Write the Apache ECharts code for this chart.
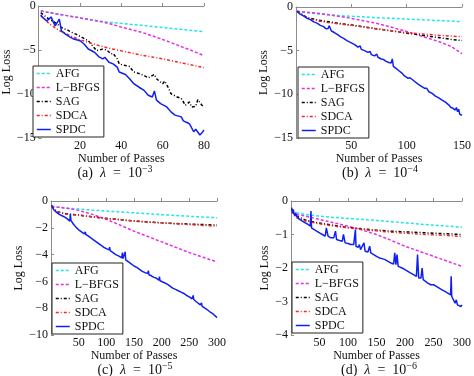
<!DOCTYPE html>
<html>
<head>
<meta charset="utf-8">
<script src="https://cdn.jsdelivr.net/npm/echarts@6/dist/echarts.min.js"></script>
<style>
  html, body { margin: 0; padding: 0; background: #fff; }
  #chart { width: 474px; height: 376px; }
</style>
</head>
<body>
<div id="chart"></div>
<script>
// ---- panel (a) lambda = 1e-3 ----
const passesA = [1, 5, 10, 15, 20, 25, 30, 35, 40, 45, 50, 55, 60, 65, 70, 75, 80];
const afgA = [-0.55, -0.75, -0.95, -1.15, -1.35, -1.55, -1.75, -1.87, -1.98, -2.1, -2.2, -2.32, -2.44, -2.56, -2.68, -2.8, -2.92];
const lbfgsA = [-0.55, -0.75, -0.95, -1.15, -1.35, -1.55, -1.77, -2.05, -2.4, -2.7, -3.0, -3.4, -3.8, -4.25, -4.7, -5.15, -5.65];
const sdcaA = [-1.1, -2.0, -2.8, -3.35, -3.85, -4.2, -4.55, -4.85, -5.1, -5.35, -5.6, -5.8, -6.0, -6.25, -6.5, -6.75, -7.0];
const sagPassesA = [1, 5, 8, 11, 14, 16, 18, 21, 24, 26, 28, 31, 33, 35, 36, 38, 39, 42, 44, 46, 49, 51, 53, 56, 57, 60, 61, 63, 64, 67, 69, 71, 73, 74, 76, 77, 79, 80];
const sagA = [-0.75, -1.5, -1.88, -2.44, -2.74, -3.0, -3.2, -3.57, -3.95, -4.5, -5.07, -4.9, -5.0, -5.45, -5.38, -6.0, -6.58, -6.77, -6.88, -7.5, -7.7, -7.9, -8.16, -7.78, -8.27, -8.83, -8.53, -9.4, -9.96, -10.34, -10.5, -11.28, -10.9, -11.47, -11.4, -10.64, -11.28, -11.47];
const spdcPassesA = [1, 2, 4, 6, 7, 8, 10, 11, 13, 15, 17, 20, 22, 24, 27, 29, 31, 32, 34, 36, 38, 39, 42, 44, 46, 49, 51, 53, 55, 56, 57, 59, 62, 64, 66, 69, 70, 72, 73, 75, 76, 78, 79, 80];
const spdcA = [-1.0, -1.32, -1.7, -1.24, -1.77, -2.26, -1.5, -2.82, -3.2, -3.5, -3.76, -3.95, -4.32, -4.89, -5.26, -5.75, -6.0, -5.83, -6.4, -6.58, -6.95, -7.5, -7.78, -8.27, -8.83, -9.29, -9.59, -10.15, -10.34, -9.66, -10.7, -11.1, -11.47, -12.03, -12.4, -12.6, -13.05, -13.27, -13.4, -14.29, -14.0, -14.66, -14.4, -14.1];

// ---- panel (b) lambda = 1e-4 ----
const passesB = [1, 10, 20, 30, 40, 50, 60, 70, 80, 90, 100, 110, 120, 130, 140, 150];
const afgB = [-0.5, -0.65, -0.8, -0.9, -1.0, -1.07, -1.13, -1.2, -1.26, -1.32, -1.38, -1.44, -1.5, -1.56, -1.62, -1.68];
const lbfgsB = [-0.5, -0.6, -0.72, -0.9, -1.1, -1.3, -1.55, -1.8, -2.1, -2.45, -2.8, -3.2, -3.6, -4.0, -4.5, -5.35];
const sagB = [-0.5, -1.2, -1.5, -1.7, -1.9, -2.06, -2.25, -2.45, -2.62, -2.8, -3.0, -3.15, -3.35, -3.52, -3.7, -3.85];
const sdcaB = [-0.5, -1.3, -1.6, -1.8, -1.95, -2.1, -2.28, -2.45, -2.62, -2.78, -2.93, -3.05, -3.15, -3.25, -3.33, -3.4];
const spdcPassesB = [1, 3, 5, 8, 10, 13, 16, 19, 22, 25, 27, 29, 30, 32, 35, 38, 40, 43, 46, 50, 53, 56, 58, 59, 60, 62, 65, 67, 68, 71, 73, 74, 77, 79, 81, 84, 86, 87, 88, 90, 93, 96, 98, 99, 101, 103, 104, 107, 110, 113, 116, 118, 120, 123, 126, 129, 132, 135, 138, 140, 142, 144, 145, 146, 147, 148, 150];
const spdcB = [-0.45, -0.75, -0.9, -1.1, -1.3, -1.45, -1.7, -1.85, -2.1, -2.25, -2.5, -2.45, -2.15, -2.75, -2.95, -3.2, -3.4, -3.6, -3.85, -4.1, -4.3, -4.6, -4.45, -4.85, -4.75, -5.0, -5.2, -5.1, -5.45, -5.6, -5.4, -5.75, -5.95, -6.0, -6.2, -6.35, -6.4, -5.95, -6.8, -7.0, -7.3, -7.6, -7.9, -7.7, -8.15, -8.1, -8.3, -8.5, -8.8, -9.05, -9.3, -9.3, -9.7, -9.9, -10.2, -10.4, -10.65, -10.9, -11.2, -11.5, -11.6, -11.8, -11.5, -12.0, -11.7, -12.3, -12.4];

// ---- panel (c) lambda = 1e-5 ----
const passesC = [1, 10, 25, 50, 75, 100, 125, 150, 175, 200, 225, 250, 275, 300];
const afgC = [-0.4, -0.45, -0.52, -0.6, -0.68, -0.75, -0.82, -0.88, -0.95, -1.02, -1.08, -1.14, -1.2, -1.25];
const lbfgsC = [-0.4, -0.45, -0.52, -0.7, -1.0, -1.37, -1.8, -2.25, -2.65, -3.05, -3.45, -3.85, -4.2, -4.55];
const sagC = [-0.4, -0.8, -0.95, -1.05, -1.18, -1.3, -1.4, -1.5, -1.57, -1.63, -1.68, -1.72, -1.76, -1.8];
const sdcaC = [-0.4, -0.75, -0.97, -1.07, -1.19, -1.3, -1.4, -1.48, -1.56, -1.63, -1.7, -1.76, -1.82, -1.88];
const spdcPassesC = [1, 5, 10, 15, 20, 25, 30, 33, 34, 35, 36, 40, 45, 50, 55, 60, 62, 63, 67, 70, 75, 80, 85, 90, 95, 100, 105, 106, 107, 112, 117, 122, 125, 128, 129, 130, 133, 134, 135, 140, 145, 150, 155, 160, 163, 165, 170, 175, 176, 177, 182, 186, 190, 195, 196, 197, 200, 205, 210, 215, 220, 225, 230, 235, 240, 245, 250, 255, 257, 258, 262, 265, 270, 272, 273, 278, 282, 285, 288, 290, 292, 295, 300];
const spdcC = [-0.3, -0.65, -0.85, -1.0, -1.1, -1.2, -1.35, -1.45, -1.5, -0.95, -1.45, -1.7, -1.95, -2.15, -2.3, -2.45, -2.3, -2.5, -2.6, -2.7, -2.85, -3.0, -3.15, -3.3, -3.45, -3.55, -3.65, -3.45, -3.7, -3.85, -4.0, -4.1, -4.2, -4.25, -3.85, -4.3, -4.35, -3.8, -4.4, -4.55, -4.7, -4.85, -4.95, -5.1, -5.0, -5.25, -5.35, -5.4, -5.2, -5.5, -5.6, -5.7, -5.75, -5.9, -5.65, -5.95, -6.0, -6.1, -6.2, -6.35, -6.5, -6.6, -6.7, -6.8, -6.9, -7.05, -7.15, -7.3, -7.05, -7.35, -7.5, -7.6, -7.75, -7.6, -7.85, -8.0, -8.1, -8.2, -8.3, -8.25, -8.4, -8.5, -8.7];

// ---- panel (d) lambda = 1e-6 ----
const passesD = [1, 10, 25, 50, 75, 100, 125, 150, 175, 200, 225, 250, 275, 300];
const afgD = [-0.3, -0.35, -0.4, -0.45, -0.49, -0.52, -0.55, -0.58, -0.62, -0.65, -0.69, -0.72, -0.75, -0.78];
const lbfgsD = [-0.35, -0.4, -0.45, -0.55, -0.65, -0.75, -0.87, -1.0, -1.17, -1.35, -1.5, -1.65, -1.8, -1.95];
const sagD = [-0.25, -0.45, -0.57, -0.66, -0.73, -0.79, -0.83, -0.87, -0.9, -0.92, -0.94, -0.96, -0.98, -1.0];
const sdcaD = [-0.3, -0.5, -0.6, -0.68, -0.75, -0.8, -0.85, -0.89, -0.93, -0.96, -0.99, -1.01, -1.03, -1.06];
const spdcPassesD = [1, 3, 4, 5, 7, 8, 10, 12, 15, 17, 20, 25, 30, 34, 35, 36, 40, 45, 50, 55, 60, 62, 65, 70, 75, 78, 80, 85, 90, 92, 95, 100, 105, 110, 112, 113, 114, 118, 120, 122, 125, 128, 130, 135, 138, 140, 145, 148, 150, 155, 160, 165, 170, 175, 180, 182, 184, 186, 188, 190, 195, 200, 205, 210, 215, 220, 222, 224, 228, 230, 232, 236, 240, 245, 250, 255, 260, 265, 270, 275, 280, 281, 282, 285, 288, 290, 292, 295, 298, 300];
const spdcD = [-0.2, -0.35, -0.25, -0.38, -0.45, -0.35, -0.45, -0.5, -0.55, -0.5, -0.6, -0.65, -0.7, -0.75, -0.3, -0.8, -0.85, -0.9, -0.95, -1.0, -1.05, -0.8, -1.05, -1.1, -1.1, -0.9, -1.15, -1.18, -1.2, -1.0, -1.25, -1.27, -1.3, -1.3, -1.32, -0.85, -1.35, -1.38, -1.3, -1.45, -1.45, -1.25, -1.5, -1.52, -1.35, -1.55, -1.6, -1.62, -1.65, -1.7, -1.72, -1.75, -1.8, -1.85, -1.88, -1.55, -1.9, -1.6, -1.95, -1.95, -2.0, -2.05, -2.1, -2.15, -2.2, -2.25, -1.6, -2.3, -2.3, -2.0, -2.35, -2.4, -2.45, -2.5, -2.5, -2.55, -2.6, -2.65, -2.7, -2.75, -2.8, -2.25, -2.85, -2.9, -3.05, -2.95, -3.1, -3.05, -3.15, -3.1];

const methodNames = ["AFG", "L\u2212BFGS", "SAG", "SDCA", "SPDC"];
const captions = ["(a)", "(b)", "(c)", "(d)"];
const exponents = ["\u22123", "\u22124", "\u22125", "\u22126"];

const FONT = "'Liberation Serif', 'DejaVu Serif', serif";
const STYLES = {
  AFG: { color: "#22e6e6", type: [3, 2] },
  "L\u2212BFGS": { color: "#e62ee6", type: [3, 2] },
  SAG: { color: "#000000", type: [3, 2, 1, 2] },
  SDCA: { color: "#f02828", type: [3, 2, 1, 2] },
  SPDC: { color: "#1020f0", type: "solid" },
};

function pairs(xs, ys) {
  return xs.map(function (x, i) { return [x, ys[i]]; });
}

const panels = [
  {
    grid: { left: 32, top: 5, width: 172, height: 133 },
    x: { max: 80, interval: 20 }, y: { min: -15, interval: 5 }, nameGap: 18,
    legend: { left: 33, top: 66 }, caption: [115, 173],
    data: [pairs(passesA, afgA), pairs(passesA, lbfgsA), pairs(sagPassesA, sagA), pairs(passesA, sdcaA), pairs(spdcPassesA, spdcA)],
  },
  {
    grid: { left: 296, top: 7, width: 168, height: 131 },
    x: { max: 150, interval: 50 }, y: { min: -15, interval: 5 }, nameGap: 20,
    legend: { left: 298, top: 67 }, caption: [380, 173],
    data: [pairs(passesB, afgB), pairs(passesB, lbfgsB), pairs(passesB, sagB), pairs(passesB, sdcaB), pairs(spdcPassesB, spdcB)],
  },
  {
    grid: { left: 51, top: 201, width: 166, height: 134 },
    x: { max: 300, interval: 50 }, y: { min: -10, interval: 2 }, nameGap: 23,
    legend: { left: 52, top: 263 }, caption: [135, 370],
    data: [pairs(passesC, afgC), pairs(passesC, lbfgsC), pairs(passesC, sagC), pairs(passesC, sdcaC), pairs(spdcPassesC, spdcC)],
  },
  {
    grid: { left: 291, top: 201, width: 173, height: 134 },
    x: { max: 300, interval: 50 }, y: { min: -4, interval: 1 }, nameGap: 14,
    legend: { left: 292, top: 262 }, caption: [379, 370],
    data: [pairs(passesD, afgD), pairs(passesD, lbfgsD), pairs(passesD, sagD), pairs(passesD, sdcaD), pairs(spdcPassesD, spdcD)],
  },
];

const minus = function (v) { return String(v).replace("-", "\u2212"); };
const axisLine = { lineStyle: { color: "#8c8c8c", width: 1 } };
const axisTick = { inside: true, length: 3, lineStyle: { color: "#8c8c8c" } };
const labelStyle = { color: "#111", fontFamily: FONT, fontSize: 12 };

const option = {
  backgroundColor: "#fff",
  animation: false,
  grid: panels.map(function (p) { return p.grid; }),
  xAxis: panels.map(function (p, i) {
    return {
      type: "value", gridIndex: i, min: 0, max: p.x.max, interval: p.x.interval,
      name: "Number of Passes", nameLocation: "middle", nameGap: 9,
      nameTextStyle: { color: "#111", fontFamily: FONT, fontSize: 12 },
      axisLine: axisLine, axisTick: axisTick, splitLine: { show: false },
      axisLabel: Object.assign({ margin: 2, showMinLabel: false, formatter: minus }, labelStyle),
    };
  }),
  yAxis: panels.map(function (p, i) {
    return {
      type: "value", gridIndex: i, min: p.y.min, max: 0, interval: p.y.interval,
      name: "Log Loss", nameLocation: "middle", nameGap: p.nameGap, nameRotate: 90,
      nameTextStyle: { color: "#111", fontFamily: FONT, fontSize: 12 },
      axisLine: axisLine, axisTick: axisTick, splitLine: { show: false },
      axisLabel: Object.assign({ margin: 3, formatter: minus }, labelStyle),
    };
  }),
  legend: panels.map(function (p) {
    return {
      data: methodNames, orient: "vertical", left: p.legend.left, top: p.legend.top,
      backgroundColor: "#fff", borderColor: "#222", borderWidth: 1,
      padding: [1, 4, 1, 3], itemGap: 1, itemWidth: 14, itemHeight: 8,
      itemStyle: { opacity: 0 },
      lineStyle: { width: 1.5 },
      textStyle: { color: "#111", fontFamily: FONT, fontSize: 12, lineHeight: 13 },
      selectedMode: false,
    };
  }),
  series: [],
  graphic: panels.map(function (p, i) {
    return {
      type: "text", x: p.caption[0], y: p.caption[1],
      style: {
        text: "{n|" + captions[i] + "  }{i|\u03bb}{n|  =  10}{s|" + exponents[i] + "}",
        align: "center", verticalAlign: "middle",
        rich: {
          n: { fontFamily: FONT, fontSize: 14, lineHeight: 17, fill: "#111" },
          i: { fontFamily: FONT, fontSize: 14, lineHeight: 17, fontStyle: "italic", fill: "#111" },
          s: { fontFamily: FONT, fontSize: 10, lineHeight: 17, verticalAlign: "top", fill: "#111" },
        },
      },
    };
  }),
};

panels.forEach(function (p, i) {
  methodNames.forEach(function (name, k) {
    const st = STYLES[name];
    option.series.push({
      type: "line", name: name, xAxisIndex: i, yAxisIndex: i,
      data: p.data[k], symbol: "none", showSymbol: false, silent: true,
      lineStyle: { color: st.color, type: st.type, width: 1.5 },
      itemStyle: { color: st.color },
    });
  });
});

const chart = echarts.init(document.getElementById("chart"));
chart.setOption(option);
</script>
</body>
</html>
